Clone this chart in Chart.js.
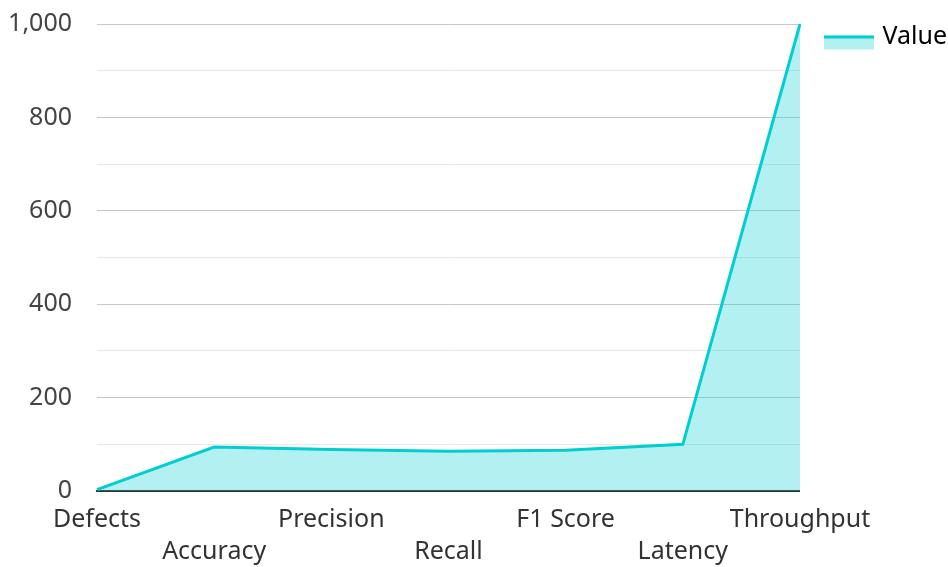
<!DOCTYPE html>
<html>
<head>
<meta charset="utf-8">
<script src="https://cdn.jsdelivr.net/npm/chart.js@4/dist/chart.umd.min.js"></script>
<style>
  body { margin: 0; background: #fff; }
</style>
</head>
<body>
<canvas id="canvas" width="948" height="567"></canvas>
<script>
// données du graphique
const categories = ['Defects', 'Accuracy', 'Precision', 'Recall', 'F1 Score', 'Latency', 'Throughput'];
const values = [3, 94, 89, 85, 87, 100, 1000];
const seriesName = 'Value';
const yLabelTicks = [0, 200, 400, 600, 800, 1000];

const lineColor = '#00CED1';
const fillColor = 'rgba(0, 206, 209, 0.3)';

// Légende : boîte remplie avec un trait en haut
const legendBoxPlugin = {
    id: 'legendBox',
    afterDraw(chart) {
        const legend = chart.legend;
        if (!legend || !legend.legendHitBoxes.length) return;
        const box = legend.legendHitBoxes[0];
        const ctx = chart.ctx;
        const w = 50, h = 14;
        const x = box.left;
        const y = box.top + box.height / 2 - 1;
        ctx.save();
        ctx.fillStyle = fillColor;
        ctx.fillRect(x, y, w, h);
        ctx.fillStyle = lineColor;
        ctx.fillRect(x, y, w, 3);
        ctx.restore();
    }
};

Chart.defaults.font.family = "'Noto Sans', sans-serif";

new Chart(document.querySelector('#canvas'), {
    type: 'line',
    data: {
        labels: categories,
        datasets: [{
            label: seriesName,
            data: values,
            borderColor: lineColor,
            backgroundColor: fillColor,
            borderWidth: 3,
            fill: 'origin',
            pointRadius: 0,
            tension: 0
        }]
    },
    options: {
        responsive: false,
        animation: false,
        layout: { padding: { top: 0, right: -9, bottom: 0, left: 10 } },
        plugins: {
            legend: {
                position: 'right',
                align: 'start',
                labels: {
                    boxWidth: 46,
                    boxHeight: 14,
                    padding: 24,
                    color: '#333',
                    font: { size: 25 },
                    generateLabels: (chart) => [{
                        text: seriesName,
                        fillStyle: 'rgba(0,0,0,0)',
                        strokeStyle: 'rgba(0,0,0,0)',
                        lineWidth: 0,
                        datasetIndex: 0
                    }]
                }
            },
            tooltip: { enabled: false }
        },
        scales: {
            x: {
                offset: false,
                grid: { display: false, drawTicks: false },
                border: { display: true, color: '#333', width: 2 },
                ticks: {
                    autoSkip: false,
                    maxRotation: 0,
                    padding: 13,
                    color: '#333',
                    font: { size: 25, lineHeight: 1.28 },
                    callback: (v, i) => i % 2 === 1 ? ['', categories[i]] : categories[i]
                },
                afterFit: (scale) => {
                    scale.height = 76;
                }
            },
            y: {
                min: 0,
                max: 1000,
                border: { display: false },
                grid: {
                    drawTicks: false,
                    color: (ctx) => yLabelTicks.includes(ctx.tick.value) ? '#c8c8c8' : '#e8e8e8'
                },
                ticks: {
                    stepSize: 100,
                    padding: 25,
                    color: '#444',
                    font: { size: 25 },
                    callback: (v) => yLabelTicks.includes(v) ? v.toLocaleString('en-US') : ''
                },
                afterFit: (scale) => {
                    scale.width = 87;
                    scale.paddingTop = 24;
                }
            }
        }
    },
    plugins: [legendBoxPlugin]
});
</script>
</body>
</html>
